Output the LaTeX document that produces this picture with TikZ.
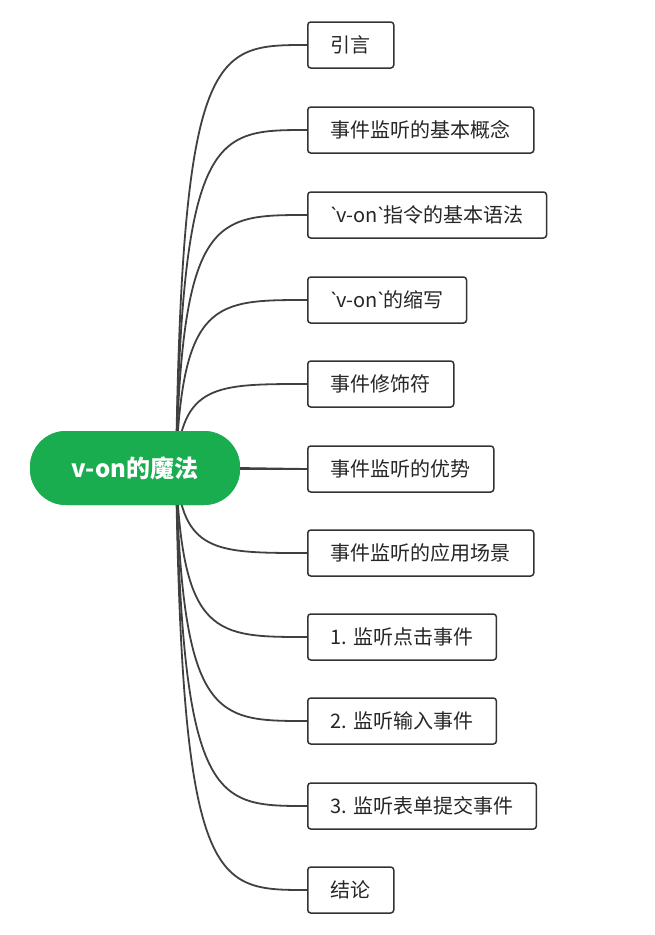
\documentclass[tikz,border=0pt]{standalone}
\usepackage{fontspec}
\setmainfont{Noto Sans CJK SC}
\newfontfamily\latinf{Noto Sans}
\newcommand{\bq}{{\latinf\symbol{96}}}
\begin{document}
\begin{tikzpicture}[x=1pt,y=-1pt,
  leaf/.style={draw=black!80,line width=1.5pt,rounded corners=3pt,fill=white,anchor=west,minimum height=46pt,inner xsep=23pt,font=\fontsize{20}{22}\selectfont,text=black!85},
  conn/.style={draw=black!75,line width=1.8pt}]
\useasboundingbox (0,0) rectangle (655,935);
\definecolor{grn}{HTML}{1AAD4F}
\tikzset{rootst/.style={fill=grn,rounded corners=36pt,minimum width=210pt,minimum height=74pt,text=white,font=\fontsize{24}{26}\selectfont\bfseries}}
\node[rootst] (root) at (135,468) {v-on的魔法};
\coordinate (o) at (176,468);
\foreach \n/\y/\t in {a/45/引言,b/130/事件监听的基本概念,c/215/\bq v-on\bq 指令的基本语法,d/300/\bq v-on\bq 的缩写,e/384/事件修饰符,f/469/事件监听的优势,g/553/事件监听的应用场景,h/637/1. 监听点击事件,i/721/2. 监听输入事件,j/806/3. 监听表单提交事件,k/890/结论}{
  \node[leaf] (\n) at (307,\y) {\t};
  \draw[conn] (o) .. controls (182,\y) and (215,\y) .. (\n.west);
}
\draw[conn] (root.east) -- (f.west);
\node[rootst] at (135,468) {v-on的魔法};
\end{tikzpicture}
\end{document}
